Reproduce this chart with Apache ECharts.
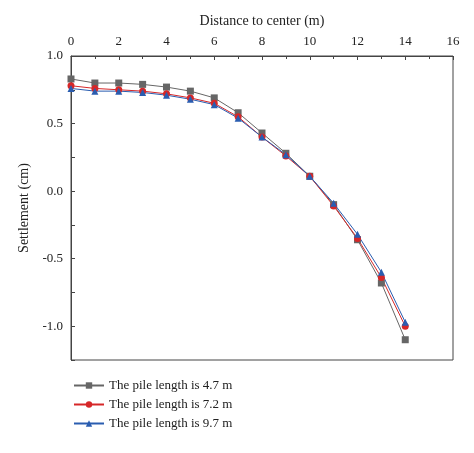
<!DOCTYPE html><html><head><meta charset="utf-8"><script src="https://cdn.jsdelivr.net/npm/echarts@6/dist/echarts.min.js"></script></head><body style="margin:0"><div id="c" style="width:474px;height:453px"></div><script>
const xs=[0,1,2,3,4,5,6,7,8,9,10,11,12,13,14];
const s47=[0.83,0.80,0.80,0.79,0.77,0.74,0.69,0.58,0.43,0.28,0.11,-0.10,-0.36,-0.68,-1.10];
const s72=[0.78,0.76,0.75,0.74,0.72,0.69,0.65,0.55,0.40,0.26,0.11,-0.11,-0.35,-0.64,-1.00];
const s97=[0.76,0.74,0.74,0.73,0.71,0.68,0.64,0.54,0.40,0.27,0.11,-0.09,-0.32,-0.60,-0.97];
const names=['The pile length is 4.7 m','The pile length is 7.2 m','The pile length is 9.7 m'];
const f='Liberation Serif';
const mk=(n,d,c,sym)=>({name:n,type:'line',data:xs.map((x,i)=>[x,d[i]]),symbol:sym,symbolSize:7,lineStyle:{color:c,width:1},itemStyle:{color:c}});
const ch=echarts.init(document.getElementById('c'));
ch.setOption({
grid:{left:71,right:21,top:56,bottom:93,show:true,borderColor:'#444',borderWidth:1},
xAxis:{type:'value',position:'top',min:0,max:16,interval:2,name:'Distance to center (m)',nameLocation:'middle',nameGap:28,nameTextStyle:{fontFamily:f,fontSize:14,color:'#222'},
 axisLine:{onZero:false,lineStyle:{color:'#444'}},axisTick:{inside:true,length:4},minorTick:{show:true,splitNumber:2},splitLine:{show:false},axisLabel:{color:'#222',fontFamily:f,fontSize:13}},
yAxis:{type:'value',min:-1.25,max:1.0,interval:0.25,name:'Settlement (cm)',nameLocation:'middle',nameGap:40,nameTextStyle:{fontFamily:f,fontSize:14,color:'#222'},
 axisLine:{lineStyle:{color:'#444'}},axisTick:{inside:true,length:4},splitLine:{show:false},
 axisLabel:{color:'#222',fontFamily:f,fontSize:13,formatter:v=>(Math.abs(v*2-Math.round(v*2))<1e-6)?v.toFixed(1):''}},
legend:{orient:'vertical',left:68,top:374,itemGap:6,itemWidth:30,itemHeight:8,textStyle:{fontFamily:f,fontSize:13,color:'#222'},data:names},
series:[mk(names[0],s47,'#666666','rect'),mk(names[1],s72,'#d62728','circle'),mk(names[2],s97,'#2a5db0','triangle')]
});
</script></body></html>
